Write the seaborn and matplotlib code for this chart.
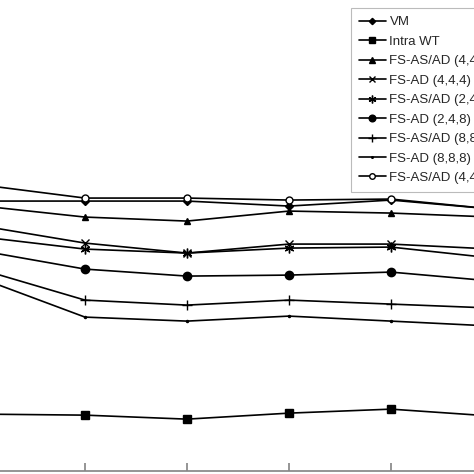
import matplotlib
matplotlib.use("Agg")
import matplotlib.pyplot as plt
import seaborn as sns
import pandas as pd

sns.set_theme(style="white")
plt.rcParams['font.family'] = ['Liberation Sans', 'DejaVu Sans']

x = [0, 1, 2, 3, 4, 5]
series = {
    "VM": [273, 273, 273, 268, 274, 265],
    "Intra WT": [60, 59, 55, 61, 65, 58],
    "FS-AS/AD (4,4,4)": [268, 257, 253, 263, 261, 257],
    "FS-AD (4,4,4)": [248, 231, 221, 230, 230, 225],
    "FS-AS/AD (2,4,8)": [237, 225, 221, 226, 227, 216],
    "FS-AD (2,4,8)": [223, 205, 198, 199, 202, 193],
    "FS-AS/AD (8,8,8)": [204, 174, 169, 174, 170, 166],
    "FS-AD (8,8,8)": [195, 157, 153, 158, 153, 148],
    "FS-AS/AD (4,4,4) bit": [289, 276, 276, 274, 275, 265],
}
markers = ["D", "s", "^", "x", (6, 2, 0), "o", "+", ".", "o"]
sizes = [4, 6, 5, 6, 7, 6, 7, 3, 5]

rows = []
for name, vals in series.items():
    for xi, v in zip(x, vals):
        rows.append({"x": xi, "y": v, "s": name})
df = pd.DataFrame(rows)

fig = plt.figure(figsize=(4.74, 4.74), dpi=100)
ax = fig.add_axes([0, 0.006, 1, 0.994])
for i, name in enumerate(series):
    sub = df[df.s == name]
    face = "white" if name.endswith("bit") else "black"
    sns.lineplot(data=sub, x="x", y="y", ax=ax, color="black", lw=1.2,
                 marker=markers[i], markersize=sizes[i], markerfacecolor=face,
                 markeredgecolor="black", markeredgewidth=1, label=name)

ax.set_xlim(0.167, 4.814)
ax.set_ylim(3, 474)
ax.set_xticks([1, 2, 3, 4])
ax.set_xticklabels([])
ax.set_yticks([])
ax.set_xlabel("")
ax.set_ylabel("")
for s in ["top", "left", "right"]:
    ax.spines[s].set_visible(False)
ax.spines["bottom"].set_color("#888888")
ax.tick_params(axis="x", direction="in", length=6, color="#888888", bottom=True)

leg = ax.legend(loc="upper left", bbox_to_anchor=(0.727, 0.997), fontsize=9.5,
                frameon=True, fancybox=False, edgecolor="#aaaaaa",
                handlelength=2.0, handletextpad=0.3, labelspacing=0.55,
                borderpad=0.6, markerscale=0.8)
leg.get_frame().set_linewidth(0.8)
fig.savefig("out.png", dpi=100)
